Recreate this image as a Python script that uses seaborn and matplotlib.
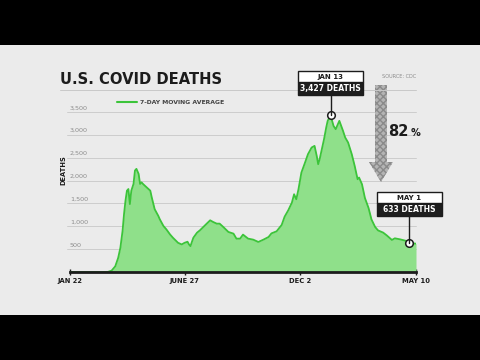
import numpy as np
import pandas as pd
import matplotlib
matplotlib.use("Agg")
import matplotlib.pyplot as plt
import matplotlib.dates as mdates
from matplotlib.patches import Rectangle, Polygon
import seaborn as sns

# ---------------- data ----------------
start_date = "2020-01-22"
day_offsets = [0, 45, 52, 57, 62, 66, 69, 72, 74, 76, 78, 80, 82, 84, 87, 89, 91, 94, 96, 98,
               100, 105, 110, 112, 116, 121, 123, 128, 132, 137, 141, 148, 153, 157, 161, 163,
               165, 169, 174, 178, 185, 192, 196, 201, 205, 210, 217, 224, 228, 233, 237, 244,
               251, 258, 265, 272, 276, 283, 290, 294, 299, 304, 307, 310, 313, 317, 322, 326,
               331, 335, 338, 340, 342, 345, 348, 351, 353, 357, 361, 364, 367, 369, 374, 377,
               381, 386, 390, 394, 396, 400, 404, 409, 413, 418, 422, 429, 434, 441, 445, 452,
               461, 465, 474]
deaths_7day = [0, 0, 3, 30, 125, 309, 529, 897, 1264, 1558, 1779, 1815, 1485, 1779, 1926, 2220,
               2256, 2146, 1926, 1962, 1926, 1852, 1779, 1632, 1374, 1227, 1154, 1007, 933, 823,
               750, 639, 603, 639, 662, 603, 566, 750, 860, 912, 1022, 1131, 1095, 1058, 1058,
               985, 876, 839, 730, 730, 818, 730, 708, 657, 708, 766, 845, 890, 1030, 1210, 1350,
               1518, 1701, 1591, 1810, 2175, 2394, 2577, 2723, 2759, 2540, 2358, 2467, 2686, 2905,
               3161, 3307, 3427, 3197, 3124, 3234, 3307, 3088, 2942, 2832, 2577, 2321, 2029, 2066,
               1920, 1620, 1400, 1150, 985, 910, 862, 800, 701, 737, 715, 679, 633, 620]

x_tick_dates = ["2020-01-22", "2020-06-27", "2020-12-02", "2021-05-10"]
x_tick_labels = ["JAN 22", "JUNE 27", "DEC 2", "MAY 10"]
y_ticks = [500, 1000, 1500, 2000, 2500, 3000, 3500]
y_tick_labels = ["500", "1,000", "1,500", "2,000", "2,500", "3,000", "3,500"]

peak_date, peak_value, peak_label = "2021-01-13", 3427, ("JAN 13", "3,427 DEATHS")
recent_date, recent_value, recent_label = "2021-05-01", 633, ("MAY 1", "633 DEATHS")
drop_number, drop_sign = "82", "%"
title = "U.S. COVID DEATHS"
legend_label = "7-DAY MOVING AVERAGE"
source_label = "SOURCE: CDC"
y_label = "DEATHS"

df = pd.DataFrame({
    "date": pd.Timestamp(start_date) + pd.to_timedelta(day_offsets, unit="D"),
    "deaths": deaths_7day,
})

# ---------------- style ----------------
sns.set_theme(style="white")
plt.rcParams["font.family"] = ["DejaVu Sans"]

LINE = "#3cc43a"
FILL = "#8fe08a"
PANEL = "#ebebeb"
DARK = "#1c1c1c"

W, H = 480, 360
fig = plt.figure(figsize=(4.8, 3.6), dpi=100, facecolor="black")
fig.add_artist(Rectangle((0, 45 / H), 1, 270 / H, transform=fig.transFigure,
                         facecolor=PANEL, edgecolor="none", zorder=-5))

ax = fig.add_axes([70 / W, (H - 272) / H, 346 / W, 160 / H])
ax.set_facecolor("none")
x0, x1 = pd.Timestamp(x_tick_dates[0]), pd.Timestamp(x_tick_dates[-1])
ax.set_xlim(x0, x1)
ax.set_ylim(0, 3500)

for v in y_ticks:
    ax.axhline(v, xmin=-0.008, color="#cdcdcd", lw=0.7, zorder=0, clip_on=False)

ax.fill_between(df["date"], df["deaths"], 0, color=FILL, lw=0, zorder=1)
sns.lineplot(data=df, x="date", y="deaths", ax=ax, color=LINE, lw=1.3, zorder=2)

for v, lab in zip(y_ticks, y_tick_labels):
    ax.text(0.0, v + 35, lab, transform=ax.get_yaxis_transform(), ha="left", va="bottom",
            fontsize=4.6, color="#8c8c8c")

for s in ["top", "right", "left"]:
    ax.spines[s].set_visible(False)
ax.spines["bottom"].set_color(DARK)
ax.spines["bottom"].set_linewidth(2.0)
ax.spines["bottom"].set_zorder(3)
ax.set_xticks([pd.Timestamp(d) for d in x_tick_dates])
ax.set_xticklabels(x_tick_labels, fontsize=4.9, fontweight="bold", color=DARK)
ax.tick_params(axis="x", direction="inout", length=5, width=1.0, color=DARK, pad=2, bottom=True)
ax.set_yticks([])
ax.set_xlabel("")
ax.set_ylabel("")

# overlay in pixel coordinates (origin bottom-left)
ov = fig.add_axes([0, 0, 1, 1], zorder=5)
ov.set_xlim(0, W)
ov.set_ylim(0, H)
ov.axis("off")
ov.patch.set_alpha(0)

def top(y):
    return H - y

ov.text(60, top(79), title, fontsize=10.6, fontweight="bold", color=DARK, ha="left", va="center")
ov.plot([60, 416], [top(89.5), top(89.5)], color="#c8c8c8", lw=0.7)
ov.text(416, top(76), source_label, fontsize=3.6, color="#8c8c8c", ha="right", va="center")
ov.plot([117, 137], [top(102), top(102)], color=LINE, lw=1.5)
ov.text(139.5, top(102), legend_label, fontsize=4.4, fontweight="bold", color="#444444",
        ha="left", va="center")
ov.text(63, top(170), y_label, fontsize=4.8, fontweight="bold", color=DARK, rotation=90,
        ha="center", va="center")

# arrow (halftone grey)
arrow = Polygon([[375, top(85)], [387, top(85)], [387, top(162)], [393, top(162)],
                 [381, top(182)], [369, top(162)], [375, top(162)]], closed=True,
                facecolor="#b4b4b4", edgecolor="#8a8a8a", lw=0, hatch="xxxxx", zorder=1)
ov.add_patch(arrow)
ov.text(388.5, top(131), drop_number, fontsize=10.5, fontweight="bold", color=DARK,
        ha="left", va="center")
ov.text(410.5, top(132.5), drop_sign, fontsize=7, fontweight="bold", color=DARK,
        ha="left", va="center")

def callout(date, value, labels, gap):
    px, py = ax.transData.transform((mdates.date2num(pd.Timestamp(date)), value))
    bw, h_top, h_bot = 65, 11, 13
    bottom = py + gap
    ov.plot([px, px], [py, bottom], color=DARK, lw=1.0, zorder=6)
    ov.add_patch(Rectangle((px - bw / 2, bottom), bw, h_bot, facecolor="#1e1e1e",
                           edgecolor=DARK, lw=1.0, zorder=6))
    ov.add_patch(Rectangle((px - bw / 2, bottom + h_bot), bw, h_top, facecolor="white",
                           edgecolor=DARK, lw=1.0, zorder=6))
    ov.text(px, bottom + h_bot + h_top / 2, labels[0], fontsize=5.0, fontweight="bold",
            color=DARK, ha="center", va="center", zorder=7)
    ov.text(px, bottom + h_bot / 2, labels[1], fontsize=5.5, fontweight="bold",
            color="white", ha="center", va="center", zorder=7)
    ax.scatter([pd.Timestamp(date)], [value], s=30, facecolor="white", edgecolor=DARK,
               linewidth=1.1, zorder=8, clip_on=False)

callout(peak_date, peak_value, peak_label, 20)
callout(recent_date, recent_value, recent_label, 27)

fig.savefig("out.png", dpi=100, facecolor="black")
